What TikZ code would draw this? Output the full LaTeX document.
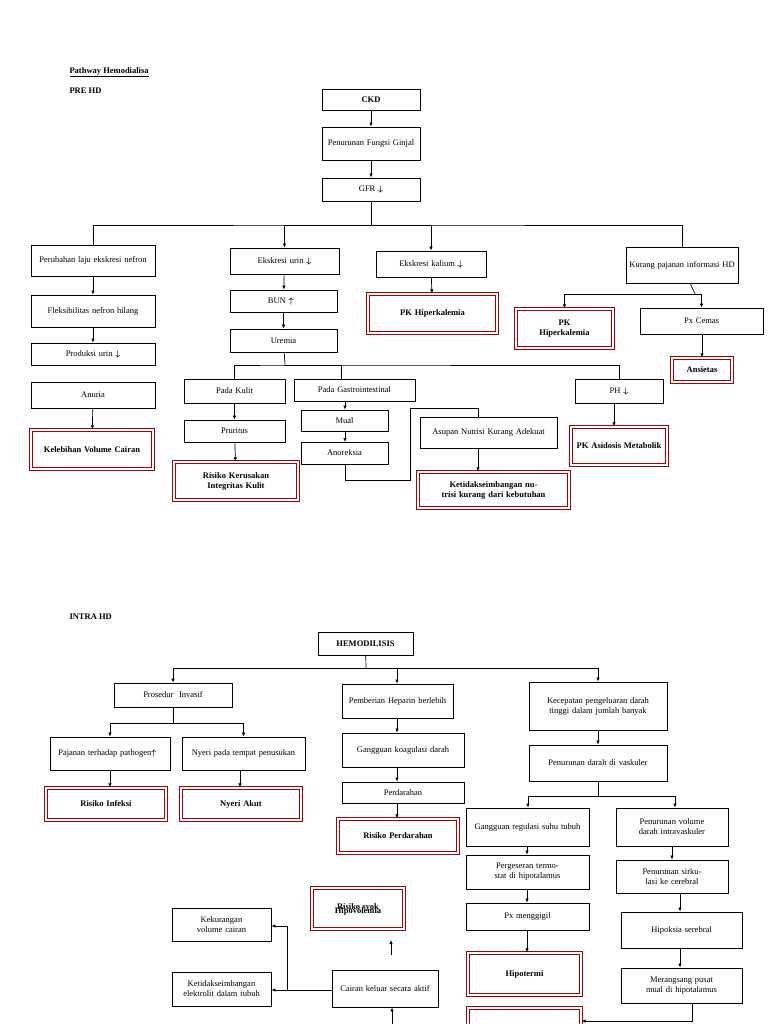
\documentclass[tikz,border=0pt]{standalone}
\usepackage{amsmath}
\usepackage{fontspec}
\setmainfont{Liberation Serif}
\usetikzlibrary{arrows.meta}
\newcommand\bx[6]{\node[box,minimum width={(#4-#2)*1pt},minimum height={(#5-#3)*1pt},text width={(#4-#2-6)*1pt}] (#1) at ({(#2+#4)/2},{(#3+#5)/2}) {#6};}
\newcommand\rbx[6]{\node[rbox,minimum width={(#4-#2-4)*1pt},minimum height={(#5-#3-4)*1pt},text width={(#4-#2-8)*1pt}] (#1) at ({(#2+#4)/2},{(#3+#5)/2}) {#6};}
\newcommand\dn{$\boldsymbol{\downarrow}$}
\newcommand\up{$\boldsymbol{\uparrow}$}
\begin{document}
\begin{tikzpicture}[x=1pt,y=-1pt,
 box/.style={draw,line width=0.8pt,inner sep=1pt,align=center,font=\fontsize{8.5}{10}\selectfont},
 rbox/.style={box,draw=red!65!black,line width=1.3pt,double=white,double distance=1.6pt,font=\bfseries\fontsize{8.5}{10}\selectfont},
 ln/.style={line width=0.7pt},
 ar/.style={ln,-{Latex[length=4pt,width=3.5pt]}}]
\useasboundingbox[fill=white] (0,0) rectangle (768,1024);
\node[anchor=west,font=\bfseries\fontsize{8.5}{10}\selectfont] (t1) at (66,72) {\underline{Pathway Hemodialisa}};
\node[anchor=west,font=\bfseries\fontsize{8.5}{10}\selectfont] (t2) at (66,91) {PRE HD};
\bx{ckd}{322}{89}{420}{110}{\textbf{CKD}}
\bx{pfg}{322}{127}{420}{160}{Penurunan Fungsi Ginjal}
\bx{gfr}{322}{178}{420}{201}{GFR \dn}
\bx{per}{31}{245}{155}{276}{Perubahan laju ekskresi nefron}
\bx{eku}{230}{248}{339}{274}{Ekskresi urin \dn}
\bx{ekk}{376}{251}{486}{277}{Ekskresi kalium \dn}
\bx{kur}{626}{247}{738}{283}{Kurang pajanan informasi HD}
\bx{fle}{31}{295}{155}{327}{Fleksibilitas nefron hilang}
\bx{pro}{31}{343}{155}{365}{Produksi urin \dn}
\bx{anu}{31}{382}{155}{408}{Anuria}
\rbx{kel}{29}{428}{155}{471}{Kelebihan Volume Cairan}
\bx{bun}{230}{290}{337}{312}{BUN \up}
\bx{ure}{230}{329}{337}{352}{Uremia}
\rbx{pk1}{366}{292}{499}{335}{PK Hiperkalemia\\[12pt]}
\rbx{pk2}{514}{307}{615}{350}{PK\\Hiperkalemia}
\bx{pxc}{640}{308}{763}{334}{Px Cemas\\[6pt]}
\rbx{ans}{670}{356}{734}{384}{Ansietas}
\bx{pku}{184}{379}{285}{403}{Pada Kulit}
\bx{pgi}{294}{379}{415}{401}{Pada Gastrointestinal}
\bx{ph}{575}{379}{663}{403}{PH \dn}
\bx{mua}{301}{410}{388}{431}{Mual}
\bx{ano}{301}{442}{388}{464}{Anoreksia}
\bx{pru}{184}{420}{285}{442}{Pruritus}
\rbx{rkk}{172}{460}{300}{502}{Risiko Kerusakan Integritas Kulit}
\bx{asu}{420}{417}{557}{448}{Asupan Nutrisi Kurang Adekuat}
\rbx{ket}{416}{470}{571}{510}{Ketidakseimbangan nutrisi kurang dari kebutuhan}
\rbx{pka}{569}{425}{669}{467}{PK Asidosis Metabolik}
% connectors pre
\draw[ar] (ckd) -- (pfg);
\draw[ar] (pfg) -- (gfr);
\coordinate (j1) at (371,225);
\draw[ln] (gfr) -- (j1);
\draw[ln] (per.north) |- (j1) -| (kur.north);
\draw[ar] (j1) -| (eku.north);
\draw[ar] (j1) -| (ekk.north);
\draw[ar] (per) -- (fle);
\draw[ar] (fle) -- (pro);
\draw[ar] (anu) -- (kel);
\draw[ar] (eku) -- (bun);
\draw[ar] (bun) -- (ure);
\draw[ar] (ekk) -- (pk1);
\coordinate (j2) at (695,294);
\draw[ln] (kur) -- (j2);
\draw[ar] (j2) -| (pk2.north);
\draw[ar] (j2) -| (pxc.north);
\draw[ar] (pxc.south -| ans.north) -- (ans.north);
\coordinate (j3) at (285,365);
\draw[ln] (ure) -- (j3);
\draw[ln] (pku.north) |- (j3) -| (ph.north);
\draw[ln] (j3) -| (341,379);
\draw[ar] (pku) -- (pru);
\draw[ar] (pru) -- (rkk);
\draw[ar] (345,401) -- (mua.north -| 345,0);
\draw[ar] (345,431) -- (345,442);
\coordinate (c1) at (345,480);
\coordinate (c2) at (410,480);
\coordinate (c3) at (410,408);
\coordinate (c4) at (478,408);
\draw[ln] (ano.south -| c1) -- (c1) -- (c2) -- (c3) -- (c4) -- (asu.north -| c4);
\draw[ar] (asu.south -| 478,0) -- (ket.north -| 478,0);
\draw[ar] (ph.south -| 614,0) -- (pka.north -| 614,0);
% INTRA
\node[anchor=west,font=\bfseries\fontsize{8.5}{10}\selectfont] (t3) at (66,617) {INTRA HD};
\bx{hem}{318}{632}{413}{655}{\textbf{HEMODILISIS}}
\bx{pin}{114}{683}{232}{707}{Prosedur~ Invasif}
\bx{hep}{342}{684}{453}{718}{Pemberian Heparin berlebih}
\bx{kec}{529}{682}{667}{730}{Kecepatan pengeluaran darah tinggi dalam jumlah banyak}
\bx{paj}{50}{737}{170}{770}{Pajanan terhadap pathogen\up}
\bx{nye}{182}{737}{305}{770}{Nyeri pada tempat penusukan}
\rbx{rin}{44}{786}{168}{822}{Risiko Infeksi}
\rbx{nya}{179}{786}{303}{822}{Nyeri Akut}
\bx{gko}{342}{733}{464}{767}{Gangguan koagulasi darah}
\bx{prd}{342}{782}{464}{803}{Perdarahan}
\rbx{rpd}{336}{817}{460}{855}{Risiko Perdarahan}
\bx{pdv}{529}{745}{667}{781}{Penurunan darah di vaskuler}
\bx{grs}{466}{808}{589}{846}{Gangguan regulasi suhu tubuh}
\bx{pvd}{616}{808}{728}{846}{Penurunan volume darah intravaskuler}
\bx{pth}{466}{855}{589}{889}{Pergeseran termostat di hipotalamus}
\bx{psc}{616}{860}{728}{893}{Penurunan sirkulasi ke cerebral}
\bx{pxm}{466}{903}{589}{930}{Px menggigil\\[6pt]}
\bx{hse}{621}{912}{742}{948}{Hipoksia serebral\\[8pt]}
\rbx{hpt}{466}{951}{583}{997}{Hipotermi\\[14pt]}
\bx{mer}{621}{968}{742}{1003}{Merangsang pusat mual di hipotalamus}
\node[rbox,minimum width=113pt,minimum height=30pt] (rbot) at (524.5,1023) {};
\rbx{rsh}{310}{886}{406}{931}{}
\node[font=\bfseries\fontsize{8.5}{10}\selectfont] (rsh1) at (358,907) {Risiko syok};
\node[font=\bfseries\fontsize{8.5}{10}\selectfont] (rsh2) at (358,911) {Hipovolemia};
\bx{kvc}{172}{908}{271}{941}{Kekurangan volume cairan}
\bx{kee}{172}{972}{271}{1006}{Ketidakseimbangan elektrolit dalam tubuh}
\bx{cka}{332}{970}{438}{1007}{Cairan keluar secara aktif}
% connectors intra
\coordinate (k1) at (366,668);
\draw[ln] (hem) -- (k1);
\draw[ln] (pin.north |- k1) -- (kec.north |- k1);
\draw[ar] (k1 -| pin.north) -- (pin.north);
\draw[ar] (k1 -| 397,0) -- (hep.north -| 397,0);
\draw[ar] (k1 -| kec.north) -- (kec.north);
\coordinate (k2) at (173,723);
\draw[ln] (pin) -- (k2);
\draw[ar] (k2) -| (paj.north);
\draw[ar] (k2) -| (nye.north);
\draw[ar] (paj.south -| 110,0) -- (rin.north -| 110,0);
\draw[ar] (nye.south -| 240,0) -- (nya.north -| 240,0);
\draw[ar] (hep.south -| 397,0) -- (gko.north -| 397,0);
\draw[ar] (gko.south -| 397,0) -- (prd.north -| 397,0);
\draw[ar] (prd.south -| 397,0) -- (rpd.north -| 397,0);
\draw[ar] (kec) -- (pdv);
\coordinate (k3) at (598,796);
\draw[ln] (pdv) -- (k3);
\draw[ar] (k3) -| (grs.north -| 528,0);
\draw[ar] (k3) -| (pvd.north -| 675,0);
\draw[ar] (grs.south -| 527,0) -- (pth.north -| 527,0);
\draw[ar] (pth.south -| 527,0) -- (pxm.north -| 527,0);
\draw[ar] (pxm.south -| 527,0) -- (hpt.north -| 527,0);
\draw[ar] (pvd.south -| 672,0) -- (psc.north -| 672,0);
\draw[ar] (psc.south -| 680,0) -- (hse.north -| 680,0);
\draw[ar] (hse.south -| 680,0) -- (mer.north -| 680,0);
\coordinate (m1) at (692,1021);
\draw[ar] (mer.south -| m1) -- (m1) -- (rbot.east |- m1);
\coordinate (s1) at (391,955);
\coordinate (s2) at (391,940);
\draw[ar] (s1) -- (s2);
\coordinate (s3) at (392,1024);
\draw[ar] (s3) -- (cka.south -| s3);
\coordinate (v1) at (287,990);
\coordinate (v2) at (287,926);
\draw[ar] (cka.west |- v1) -- (kee.east |- v1);
\draw[ln] (v1) -- (v2);
\draw[ar] (v2) -- (kvc.east |- v2);
\end{tikzpicture}
\end{document}
